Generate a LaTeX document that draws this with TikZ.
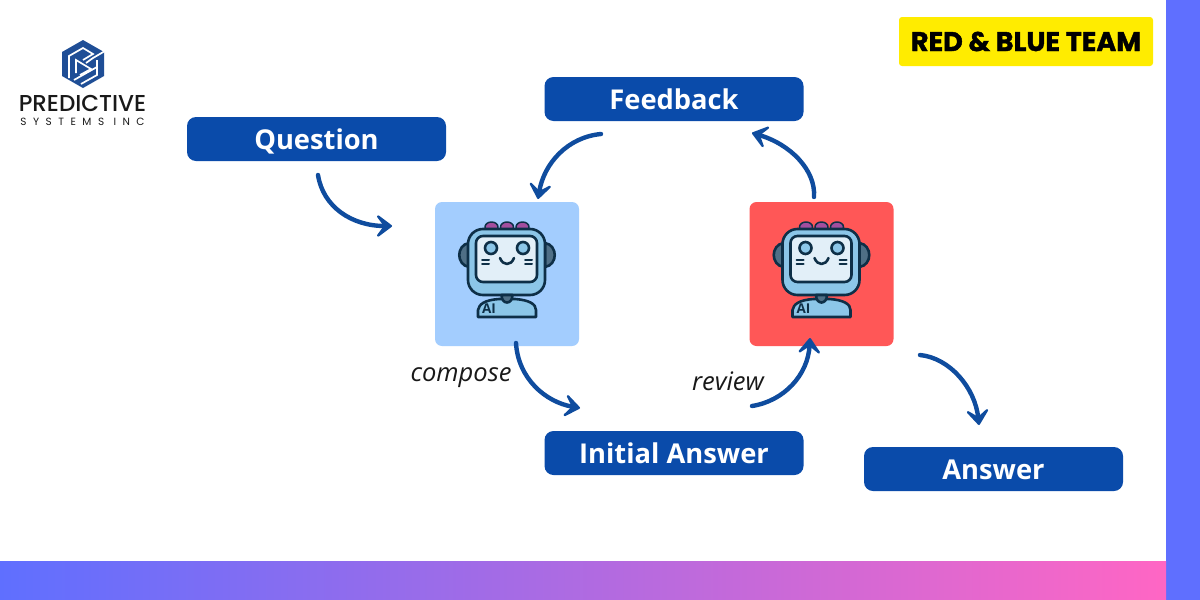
\documentclass[tikz,border=0pt]{standalone}
\usepackage{fontspec}
\setmainfont{Open Sans}
\newfontfamily\popfont[BoldFeatures={FakeBold=1.4}]{Poppins}
\newfontfamily\logofont{Poppins}
\newfontfamily\logomedium{Poppins Medium}
\usetikzlibrary{arrows.meta,calc}
\definecolor{boxblue}{HTML}{0A4BAA}
\definecolor{arrowblue}{HTML}{0F4C9E}
\definecolor{lightsq}{HTML}{A3CDFE}
\definecolor{redsq}{HTML}{FF5757}
\definecolor{banner}{HTML}{FFEC00}
\definecolor{sidebar}{HTML}{5F6FFF}
\definecolor{pinkend}{HTML}{FF66C4}
\definecolor{robotline}{HTML}{0E2F47}
\definecolor{robotface}{HTML}{E2EFF8}
\definecolor{robothead}{HTML}{8CC6E8}
\definecolor{robotear}{HTML}{4F6F86}
\definecolor{robotbump}{HTML}{A34E9E}
\definecolor{logoblue}{HTML}{1F4E96}
\tikzset{
  x=1pt,y=-1pt,
  labelbox/.style={fill=boxblue,rounded corners=9pt,minimum width=259pt,minimum height=44pt,inner sep=0pt,text=white,text height=23.5pt,text depth=2pt,font=\fontsize{27.3}{30}\selectfont\bfseries},
  sq/.style={rounded corners=7pt,minimum width=144pt,minimum height=144pt,inner sep=0pt},
  flow/.style={draw=arrowblue,line width=4.4pt,line cap=round,-{Stealth[length=20pt,width=30pt,inset=11pt,round]}},
  verb/.style={font=\fontsize{25.5}{28}\selectfont\itshape,text=black!90,inner sep=0pt},
  rl/.style={draw=robotline,line width=2.6pt,line cap=round,line join=round},
  robot/.pic={
    \filldraw[fill=robotbump,rl,line width=1.5pt] (-15.5,-47) ellipse (6.5 and 5);
    \filldraw[fill=robotbump,rl,line width=1.5pt] (0,-47) ellipse (6.5 and 5);
    \filldraw[fill=robotbump,rl,line width=1.5pt] (15.5,-47) ellipse (6.5 and 5);
    \filldraw[fill=robotear,rl] (-38,-31) .. controls (-51,-29) and (-51,-9) .. (-38,-7) -- cycle;
    \filldraw[fill=robotear,rl] (38,-31) .. controls (51,-29) and (51,-9) .. (38,-7) -- cycle;
    \filldraw[fill=robothead,rl,rounded corners=15pt] (-39,-45) rectangle (38,21);
    \filldraw[fill=robotface,rl,rounded corners=7pt] (-31,-38) rectangle (30,8);
    \filldraw[fill=robothead,rl] (-16,-26) circle (6);
    \filldraw[fill=robothead,rl] (16,-26) circle (6);
    \draw[rl] (-7,-16) .. controls (-4,-8) and (4,-8) .. (7,-16);
    \draw[rl,line width=2pt] (-25,-14) -- (-18,-14) (-25,-10) -- (-18,-10);
    \draw[rl,line width=2pt] (18,-14) -- (25,-14) (18,-10) -- (25,-10);
    \filldraw[fill=robothead,rl] (-29,43) -- (-29,36) .. controls (-28,30) and (-22,26) .. (-8,25) -- (8,25) .. controls (22,26) and (29,30) .. (29,36) -- (29,43) -- cycle;
    \filldraw[fill=robotear,rl] (-5.5,21) .. controls (-5.5,31) and (5.5,31) .. (5.5,21) -- cycle;
    \node[inner sep=0pt,text=robotline,font=\fontsize{13.5}{14}\selectfont\bfseries] at (-18,35) {AI};
  }
}
\begin{document}
\begin{tikzpicture}
\useasboundingbox (0,0) rectangle (1200,600);
\fill[white] (0,0) rectangle (1200,600);
\fill[sidebar] (1166,0) rectangle (1200,600);
\shade[left color=sidebar,right color=pinkend] (0,561) rectangle (1166,600);
% logo
\begin{scope}[shift={(83,64)}]
  \fill[logoblue] (0,-24) -- (21,-12) -- (21,12) -- (0,24) -- (-21,12) -- (-21,-12) -- cycle;
  \draw[white,line width=1.7pt] (-14,14) -- (-14,-8) -- (0,-16) -- (10,-10) -- (0,-4);
  \draw[white,line width=1.7pt] (-7,9) -- (-7,-4) -- (8,5) -- (-3,11);
  \draw[white,line width=1.7pt] (-2,20) -- (14,11) -- (14,-4);
  \draw[white,line width=1.7pt] (3,-1) -- (10,-6) -- (22,-13);
  \draw[white,line width=1.7pt] (-9,16) -- (14,3);
\end{scope}
\node[inner sep=0pt,font=\logomedium\fontsize{23}{25}\selectfont,text=black!90] (logoname) at (82.5,103.5) {PREDICTIVE};
\node[inner sep=0pt,font=\logofont\fontsize{10.5}{12}\selectfont,text=black!90] (logosub) at (82.5,122) {\addfontfeatures{LetterSpace=62}SYSTEMS INC};
% banner
\node[fill=banner,rounded corners=3pt,minimum width=254pt,minimum height=49pt,inner sep=0pt,font=\popfont\fontsize{27}{29}\selectfont\bfseries,text=black] (team) at (1026,41.5) {RED \& BLUE TEAM};
% boxes
\node[labelbox] (question) at (316.5,139) {Question};
\node[labelbox] (feedback) at (674,99) {Feedback};
\node[labelbox] (initial) at (674,453) {Initial Answer};
\node[labelbox] (answer) at (993.5,469) {Answer};
\node[sq,fill=lightsq] (blue) at (507,274) {};
\node[sq,fill=redsq] (red) at (821.5,274) {};
\pic at (blue.center) {robot};
\pic at (red.center) {robot};
% connector ends
\coordinate (q1) at (318,175);
\coordinate (q2) at (392,226);
\coordinate (f1) at (601,134);
\coordinate (f2) at (538,199);
\coordinate (r1) at (814,197);
\coordinate (r2) at (752,133);
\coordinate (c1) at (516,343);
\coordinate (c2) at (580,408);
\coordinate (v1) at (752,406);
\coordinate (v2) at (810,338);
\coordinate (a1) at (920,355);
\coordinate (a2) at (979,425);
\draw[flow] (q1) .. controls (323,207) and (352,226) .. (q2);
\draw[flow] (f1) .. controls (568,137) and (544,163) .. (f2);
\draw[flow] (r1) .. controls (816,170) and (790,144) .. (r2);
\draw[flow] (c1) .. controls (518,378) and (545,402) .. (c2);
\draw[flow] (v1) .. controls (784,401) and (808,375) .. (v2);
\draw[flow] (a1) .. controls (950,358) and (975,388) .. (a2);
\node[verb] (compose) at (461,378) {compose};
\node[verb] (review) at (728,381) {review};
\end{tikzpicture}
\end{document}
